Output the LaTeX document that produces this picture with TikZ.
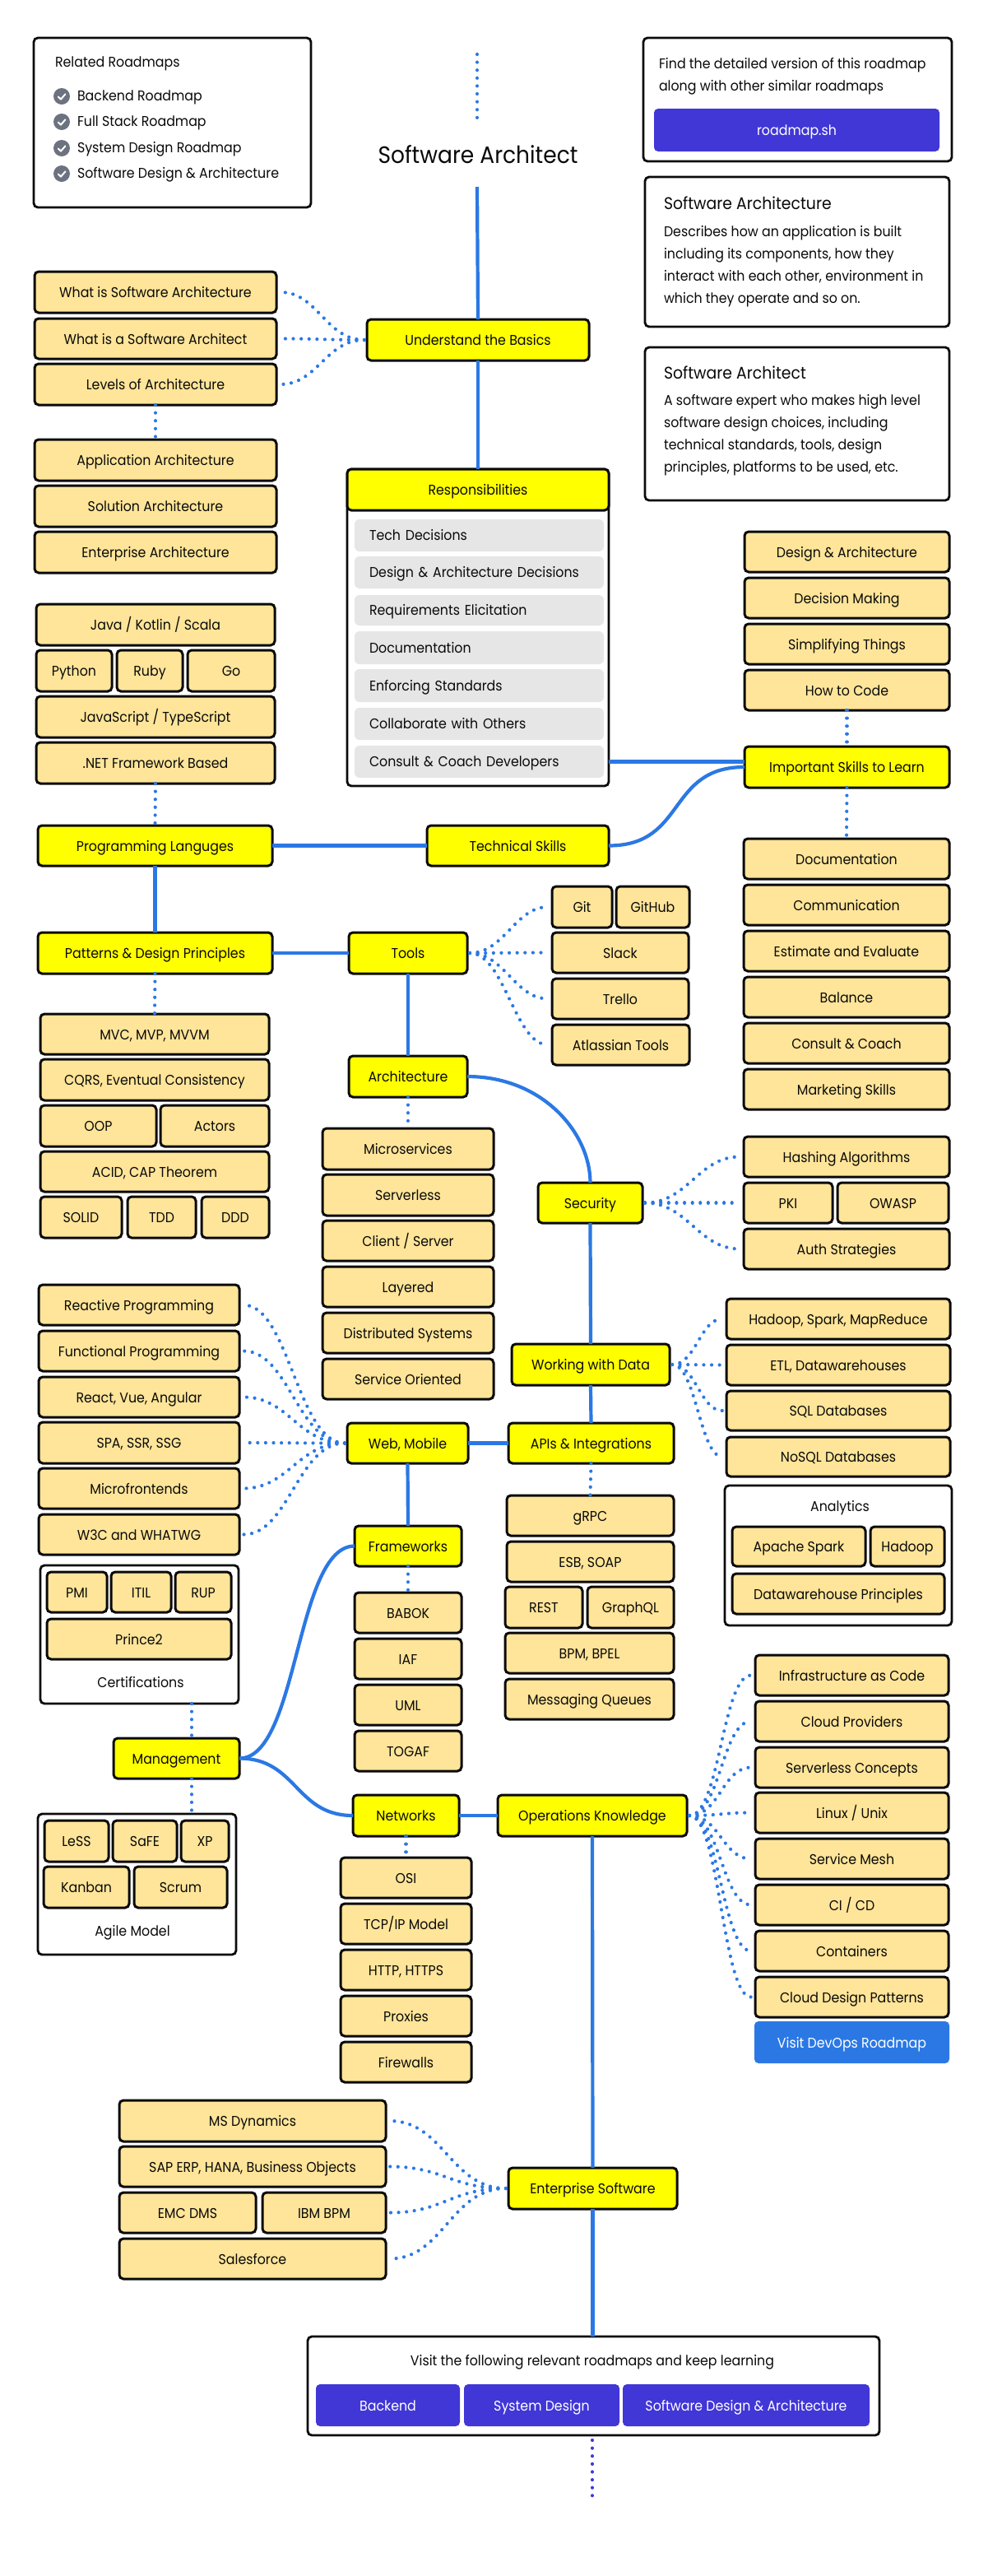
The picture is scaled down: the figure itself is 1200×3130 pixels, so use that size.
\documentclass[tikz,border=0pt]{standalone}
\usepackage{fontspec}
\setmainfont[FakeStretch=0.92]{Poppins}
\definecolor{lnk}{HTML}{2B78E4}
\definecolor{subf}{HTML}{FFE599}
\definecolor{mainy}{HTML}{FFFF00}
\definecolor{purp}{HTML}{4136D6}
\definecolor{gri}{HTML}{E6E6E6}
\definecolor{chk}{HTML}{6D7280}
\definecolor{ink}{HTML}{0A0A0A}
\newcommand{\sz}[1]{\fontsize{#1}{#1}\selectfont}
\newcommand{\bx}[7][sub]{%
  \pgfmathsetmacro\bX{(#3+#5)/2}\pgfmathsetmacro\bY{(#4+#6)/2}%
  \pgfmathsetmacro\bW{#5-#3}\pgfmathsetmacro\bH{#6-#4}%
  \node[#1,minimum width=\bW pt,minimum height=\bH pt] (#2) at (\bX,\bY) {#7};}
\newcommand{\gi}[4]{%
  \pgfmathsetmacro\bY{(#2+#3)/2}\pgfmathsetmacro\bH{#3-#2}%
  \node[gitem,minimum height=\bH pt] (#1) at (582.5,\bY) {\mbox{#4}};}
\newcommand{\fan}[4][40]{\draw[dot,shorten <=3pt,shorten >=5pt] (#2) .. controls +(#3*#1 pt,0) and +(-#3*#1 pt,0) .. (#4);}
\newcommand{\chkmark}[3]{%
  \node[chkc] (#1) at (75,#2) {};
  \draw[white,line width=2pt,line cap=round,line join=round] ([shift={(-4.2,0.5)}]#1.center) -- ([shift={(-1,3.6)}]#1.center) -- ([shift={(4.4,-2.6)}]#1.center);
  \node[txt,anchor=west] (#1t) at (94,#2+1.5) {#3};}
\tikzset{x=1pt,y=-1pt,
  base/.style={draw=ink,rounded corners=5pt,line width=3pt,outer sep=0pt,inner sep=0pt,align=center,text=ink,font=\sz{17.2},text height=13.5pt,text depth=.3pt},
  sub/.style={base,fill=subf},
  main/.style={base,fill=mainy},
  info/.style={draw=ink,rounded corners=5pt,line width=2.8pt,fill=white,outer sep=0pt,inner sep=0pt},
  btn/.style={rounded corners=5pt,fill=purp,draw=none,outer sep=0pt,inner sep=0pt,text=white,align=center,font=\sz{17.2},text height=13.5pt,text depth=.3pt},
  blu/.style={btn,fill=lnk},
  gitem/.style={rounded corners=6pt,fill=gri,draw=none,outer sep=0pt,inner xsep=18pt,inner ysep=0pt,minimum width=303pt,text width=267pt,align=left,text=ink,font=\sz{17.2},text height=12.5pt,text depth=.3pt},
  txt/.style={inner sep=0pt,outer sep=0pt,text=ink,font=\sz{17.2},align=left},
  chkc/.style={circle,fill=chk,minimum size=20pt,inner sep=0pt,outer sep=0pt},
  lin/.style={draw=lnk,line width=4.2pt},
  dot/.style={draw=lnk,line width=4.2pt,line cap=round,dash pattern=on 0.01pt off 9.6pt},
  pdot/.style={dot,draw=purp},
}
\begin{document}
\begin{tikzpicture}
\useasboundingbox[fill=white] (0,0) rectangle (1200,3130);
% --- containers
\bx[info]{related}{41}{46}{378}{252}{}
\bx[info]{find}{782}{46}{1157}{196}{}
\bx[info]{swa}{784}{215}{1154}{397}{}
\bx[info]{swr}{784}{422}{1154}{608}{}
\bx[info]{resp}{422}{570}{740}{955}{}
\bx[info]{analytics}{881}{1805}{1157}{1975}{}
\bx[info]{cert}{49}{1902}{290}{2070}{}
\bx[info]{agile}{46}{2204}{287}{2375}{}
\bx[info]{bottom}{374}{2839}{1069}{2959}{}
% --- top text
\node[txt,anchor=west] (rel) at (67,77) {Related Roadmaps};
\chkmark{c1}{117}{Backend Roadmap}
\chkmark{c2}{148}{Full Stack Roadmap}
\chkmark{c3}{180}{System Design Roadmap}
\chkmark{c4}{211}{Software Design \& Architecture}
\node[txt,font=\sz{28.8}] (title) at (581,188) {Software Architect};
\node[txt,anchor=north west,font=\fontsize{17.2}{27}\selectfont] (findt) at (801,70) {Find the detailed version of this roadmap\\along with other similar roadmaps};
\bx[btn]{rmsh}{795}{132}{1142}{184}{roadmap.sh}
\node[txt,anchor=west,font=\sz{20.5}] (swat) at (807,247) {Software Architecture};
\node[txt,anchor=north west,font=\fontsize{17.2}{27}\selectfont] (swab) at (807,274.5) {Describes how an application is built\\including its components, how they\\interact with each other, environment in\\which they operate and so on.};
\node[txt,anchor=west,font=\sz{20.5}] (swrt) at (807,453) {Software Architect};
\node[txt,anchor=north west,font=\fontsize{17.2}{27}\selectfont] (swrb) at (807,479.5) {A software expert who makes high level\\software design choices, including\\technical standards, tools, design\\principles, platforms to be used, etc.};
% --- basics
\bx{q1}{42}{330}{336}{380}{What is Software Architecture}
\bx{q2}{42}{387}{336}{436}{What is a Software Architect}
\bx{q3}{42}{442}{336}{492}{Levels of Architecture}
\bx[main]{und}{446}{388}{716}{438}{Understand the Basics}
\bx{l1}{42}{534}{336}{584}{Application Architecture}
\bx{l2}{42}{590}{336}{640}{Solution Architecture}
\bx{l3}{42}{646}{336}{696}{Enterprise Architecture}
% --- responsibilities
\bx[main]{resph}{422}{570}{740}{620}{Responsibilities}
\gi{r1}{631}{670}{Tech Decisions}
\gi{r2}{676}{715}{Design \& Architecture Decisions}
\gi{r3}{723}{760}{Requirements Elicitation}
\gi{r4}{767}{807}{Documentation}
\gi{r5}{813}{853}{Enforcing Standards}
\gi{r6}{860}{899}{Collaborate with Others}
\gi{r7}{906}{945}{Consult \& Coach Developers}
% --- languages
\bx{j1}{44}{734}{334}{784}{Java / Kotlin / Scala}
\bx{j2}{44}{790}{136}{840}{Python}
\bx{j3}{142}{790}{222}{840}{Ruby}
\bx{j4}{228}{790}{334}{840}{Go}
\bx{j5}{44}{846}{334}{896}{JavaScript / TypeScript}
\bx{j6}{44}{902}{334}{952}{.NET Framework Based}
\bx[main]{prog}{46}{1003}{331}{1052}{Programming Languges}
\bx[main]{tech}{519}{1003}{740}{1052}{Technical Skills}
% --- skills
\bx{s1}{905}{646}{1154}{695}{Design \& Architecture}
\bx{s2}{905}{702}{1154}{751}{Decision Making}
\bx{s3}{905}{758}{1154}{807}{Simplifying Things}
\bx{s4}{905}{814}{1154}{863}{How to Code}
\bx[main]{imp}{905}{907}{1154}{957}{Important Skills to Learn}
\bx{t1}{904}{1019}{1154}{1068}{Documentation}
\bx{t2}{904}{1075}{1154}{1124}{Communication}
\bx{t3}{904}{1131}{1154}{1180}{Estimate and Evaluate}
\bx{t4}{904}{1187}{1154}{1236}{Balance}
\bx{t5}{904}{1243}{1154}{1292}{Consult \& Coach}
\bx{t6}{904}{1299}{1154}{1348}{Marketing Skills}
% --- patterns
\bx[main]{pat}{46}{1133}{331}{1183}{Patterns \& Design Principles}
\bx{p1}{49}{1232}{327}{1281}{MVC, MVP, MVVM}
\bx{p2}{49}{1287}{327}{1337}{CQRS, Eventual Consistency}
\bx{p3}{49}{1343}{190}{1393}{OOP}
\bx{p4}{195}{1343}{327}{1393}{Actors}
\bx{p5}{49}{1399}{327}{1448}{ACID, CAP Theorem}
\bx{p6}{49}{1454}{148}{1504}{SOLID}
\bx{p7}{155}{1454}{238}{1504}{TDD}
\bx{p8}{245}{1454}{327}{1504}{DDD}
% --- tools
\bx[main]{tools}{424}{1133}{568}{1183}{Tools}
\bx{g1}{671}{1077}{744}{1127}{Git}
\bx{g2}{749}{1077}{838}{1127}{GitHub}
\bx{g3}{671}{1133}{837}{1182}{Slack}
\bx{g4}{671}{1189}{837}{1238}{Trello}
\bx{g5}{671}{1245}{838}{1294}{Atlassian Tools}
% --- architecture
\bx[main]{arch}{424}{1283}{568}{1333}{Architecture}
\bx{a1}{392}{1371}{600}{1421}{Microservices}
\bx{a2}{392}{1427}{600}{1477}{Serverless}
\bx{a3}{392}{1483}{600}{1532}{Client / Server}
\bx{a4}{392}{1539}{600}{1588}{Layered}
\bx{a5}{392}{1595}{600}{1644}{Distributed Systems}
\bx{a6}{392}{1651}{600}{1700}{Service Oriented}
% --- security
\bx[main]{sec}{654}{1437}{781}{1486}{Security}
\bx{h1}{904}{1381}{1154}{1430}{Hashing Algorithms}
\bx{h2}{904}{1437}{1012}{1486}{PKI}
\bx{h3}{1018}{1437}{1153}{1486}{OWASP}
\bx{h4}{904}{1493}{1154}{1542}{Auth Strategies}
% --- data
\bx[main]{data}{622}{1633}{814}{1683}{Working with Data}
\bx{d1}{883}{1578}{1155}{1627}{Hadoop, Spark, MapReduce}
\bx{d2}{883}{1634}{1155}{1683}{ETL, Datawarehouses}
\bx{d3}{883}{1690}{1155}{1738}{SQL Databases}
\bx{d4}{883}{1746}{1155}{1794}{NoSQL Databases}
\node[txt] (anat) at (1021,1832) {Analytics};
\bx{an1}{890}{1855}{1052}{1903}{Apache Spark}
\bx{an2}{1058}{1855}{1148}{1903}{Hadoop}
\bx{an3}{890}{1912}{1148}{1961}{Datawarehouse Principles}
% --- web
\bx{w1}{47}{1561}{291}{1610}{Reactive Programming}
\bx{w2}{47}{1617}{291}{1666}{Functional Programming}
\bx{w3}{47}{1673}{291}{1722}{React, Vue, Angular}
\bx{w4}{47}{1728}{291}{1778}{SPA, SSR, SSG}
\bx{w5}{47}{1784}{291}{1833}{Microfrontends}
\bx{w6}{47}{1840}{291}{1889}{W3C and WHATWG}
\bx[main]{web}{422}{1729}{569}{1778}{Web, Mobile}
\bx[main]{api}{618}{1729}{819}{1778}{APIs \& Integrations}
\bx{i1}{616}{1817}{819}{1866}{gRPC}
\bx{i2}{616}{1873}{819}{1922}{ESB, SOAP}
\bx{i3}{614}{1928}{708}{1978}{REST}
\bx{i4}{714}{1928}{819}{1978}{GraphQL}
\bx{i5}{614}{1984}{819}{2033}{BPM, BPEL}
\bx{i6}{614}{2040}{819}{2089}{Messaging Queues}
% --- frameworks
\bx[main]{fw}{431}{1854}{561}{1903}{Frameworks}
\bx{f1}{431}{1935}{561}{1984}{BABOK}
\bx{f2}{431}{1991}{561}{2040}{IAF}
\bx{f3}{431}{2047}{561}{2096}{UML}
\bx{f4}{431}{2103}{561}{2152}{TOGAF}
% --- management
\bx{ce1}{57}{1910}{130}{1959}{PMI}
\bx{ce2}{135}{1910}{208}{1959}{ITIL}
\bx{ce3}{213}{1910}{281}{1959}{RUP}
\bx{ce4}{57}{1967}{281}{2016}{Prince2}
\node[txt] (cert t) at (171,2044) {Certifications};
\bx[main]{mgmt}{138}{2112}{291}{2161}{Management}
\bx{ag1}{54}{2212}{132}{2262}{LeSS}
\bx{ag2}{137}{2212}{215}{2262}{SaFE}
\bx{ag3}{220}{2212}{278}{2262}{XP}
\bx{ag4}{53}{2268}{157}{2318}{Kanban}
\bx{ag5}{163}{2268}{276}{2318}{Scrum}
\node[txt] (agilet) at (161,2348) {Agile Model};
% --- networks
\bx[main]{net}{429}{2181}{558}{2231}{Networks}
\bx{n1}{414}{2257}{573}{2306}{OSI}
\bx{n2}{414}{2313}{573}{2362}{TCP/IP Model}
\bx{n3}{414}{2369}{573}{2418}{HTTP, HTTPS}
\bx{n4}{414}{2425}{573}{2474}{Proxies}
\bx{n5}{414}{2481}{573}{2530}{Firewalls}
% --- operations
\bx[main]{ops}{605}{2181}{835}{2231}{Operations Knowledge}
\bx{o1}{918}{2011}{1153}{2060}{Infrastructure as Code}
\bx{o2}{918}{2067}{1153}{2116}{Cloud Providers}
\bx{o3}{918}{2123}{1153}{2172}{Serverless Concepts}
\bx{o4}{918}{2178}{1153}{2227}{Linux / Unix}
\bx{o5}{918}{2234}{1153}{2283}{Service Mesh}
\bx{o6}{918}{2290}{1153}{2339}{CI / CD}
\bx{o7}{918}{2346}{1153}{2395}{Containers}
\bx{o8}{918}{2402}{1153}{2451}{Cloud Design Patterns}
\bx[blu]{devops}{917}{2456}{1154}{2507}{Visit DevOps Roadmap}
% --- enterprise
\bx[main]{ent}{618}{2634}{823}{2684}{Enterprise Software}
\bx{e1}{145}{2552}{469}{2602}{MS Dynamics}
\bx{e2}{145}{2608}{469}{2657}{SAP ERP, HANA, Business Objects}
\bx{e3}{145}{2664}{311}{2713}{EMC DMS}
\bx{e4}{319}{2664}{469}{2713}{IBM BPM}
\bx{e5}{145}{2720}{469}{2769}{Salesforce}
% --- bottom
\node[txt] (vis) at (720,2870) {Visit the following relevant roadmaps and keep learning};
\bx[btn]{b1}{384}{2897}{559}{2948}{Backend}
\bx[btn]{b2}{564}{2897}{753}{2948}{System Design}
\bx[btn]{b3}{757}{2897}{1057}{2948}{Software Design \& Architecture}
% --- free ends
\coordinate (topa) at (580,66);
\coordinate (topb) at (580,150);
\coordinate (topc) at (580,227);
\coordinate (mc) at (233,2112);
\coordinate (enda) at (720,2965);
\coordinate (endb) at (720,3040);
% --- solid connectors
\draw[lin] (topc) -- (und.north);
\draw[lin] (und.south) -- (resp.north);
\draw[lin] (prog.east) -- (tech.west);
\draw[lin] (prog.south) -- (pat.north);
\draw[lin] (pat.east) -- (tools.west);
\draw[lin] (tools.south) -- (arch.north);
\draw[lin] (resp.east |- r7.center) -- (imp.west |- r7.center);
\draw[lin] (tech.east) .. controls +(95,0) and +(-95,0) .. (imp.west);
\draw[lin] (arch.east) .. controls +(92,0) and +(0,-60) .. (sec.north);
\draw[lin] (sec.south) -- (data.north);
\draw[lin] (data.south) -- (api.north);
\draw[lin] (api.west) -- (web.east);
\draw[lin] (web.south) -- (fw.north);
\draw[lin] (mgmt.east) .. controls +(72,0) and +(-72,0) .. (fw.west);
\draw[lin] (mgmt.east) .. controls +(70,0) and +(-70,0) .. (net.west);
\draw[lin] (net.east) -- (ops.west);
\draw[lin] (ops.south) -- (ent.north);
\draw[lin] (ent.south) -- (bottom.north -| ent.south);
% --- dotted connectors
\draw[dot] (topa) -- (topb);
\draw[pdot] (enda) -- (endb);
\draw[dot] (q3.south) -- (l1.north);
\draw[dot] (j6.south) -- (prog.north);
\draw[dot] (pat.south) -- (p1.north);
\draw[dot] (arch.south) -- (a1.north);
\draw[dot] (s4.south) -- (imp.north);
\draw[dot] (imp.south) -- (t1.north);
\draw[dot] (api.south) -- (i1.north);
\draw[dot] (fw.south) -- (f1.north);
\draw[dot] (net.south) -- (n1.north);
\draw[dot] (cert.south -| mc) -- (mc);
\draw[dot] (mc |- mgmt.south) -- (mc |- agile.north);
\fan[50]{und.west}{-1}{q1.east}
\fan[50]{und.west}{-1}{q2.east}
\fan[50]{und.west}{-1}{q3.east}
\fan[45]{tools.east}{1}{g1.west}
\fan[45]{tools.east}{1}{g3.west}
\fan[45]{tools.east}{1}{g4.west}
\fan[45]{tools.east}{1}{g5.west}
\fan[55]{sec.east}{1}{h1.west}
\fan[55]{sec.east}{1}{h2.west}
\fan[55]{sec.east}{1}{h4.west}
\fan[32]{data.east}{1}{d1.west}
\fan[32]{data.east}{1}{d2.west}
\fan[32]{data.east}{1}{d3.west}
\fan[32]{data.east}{1}{d4.west}
\fan[60]{web.west}{-1}{w1.east}
\fan[60]{web.west}{-1}{w2.east}
\fan[60]{web.west}{-1}{w3.east}
\fan[60]{web.west}{-1}{w4.east}
\fan[60]{web.west}{-1}{w5.east}
\fan[60]{web.west}{-1}{w6.east}
\fan[40]{ops.east}{1}{o1.west}
\fan[40]{ops.east}{1}{o2.west}
\fan[40]{ops.east}{1}{o3.west}
\fan[40]{ops.east}{1}{o4.west}
\fan[40]{ops.east}{1}{o5.west}
\fan[40]{ops.east}{1}{o6.west}
\fan[40]{ops.east}{1}{o7.west}
\fan[40]{ops.east}{1}{o8.west}
\fan[70]{ent.west}{-1}{e1.east}
\fan[70]{ent.west}{-1}{e2.east}
\fan[70]{ent.west}{-1}{e4.east}
\fan[70]{ent.west}{-1}{e5.east}
\end{tikzpicture}
\end{document}
